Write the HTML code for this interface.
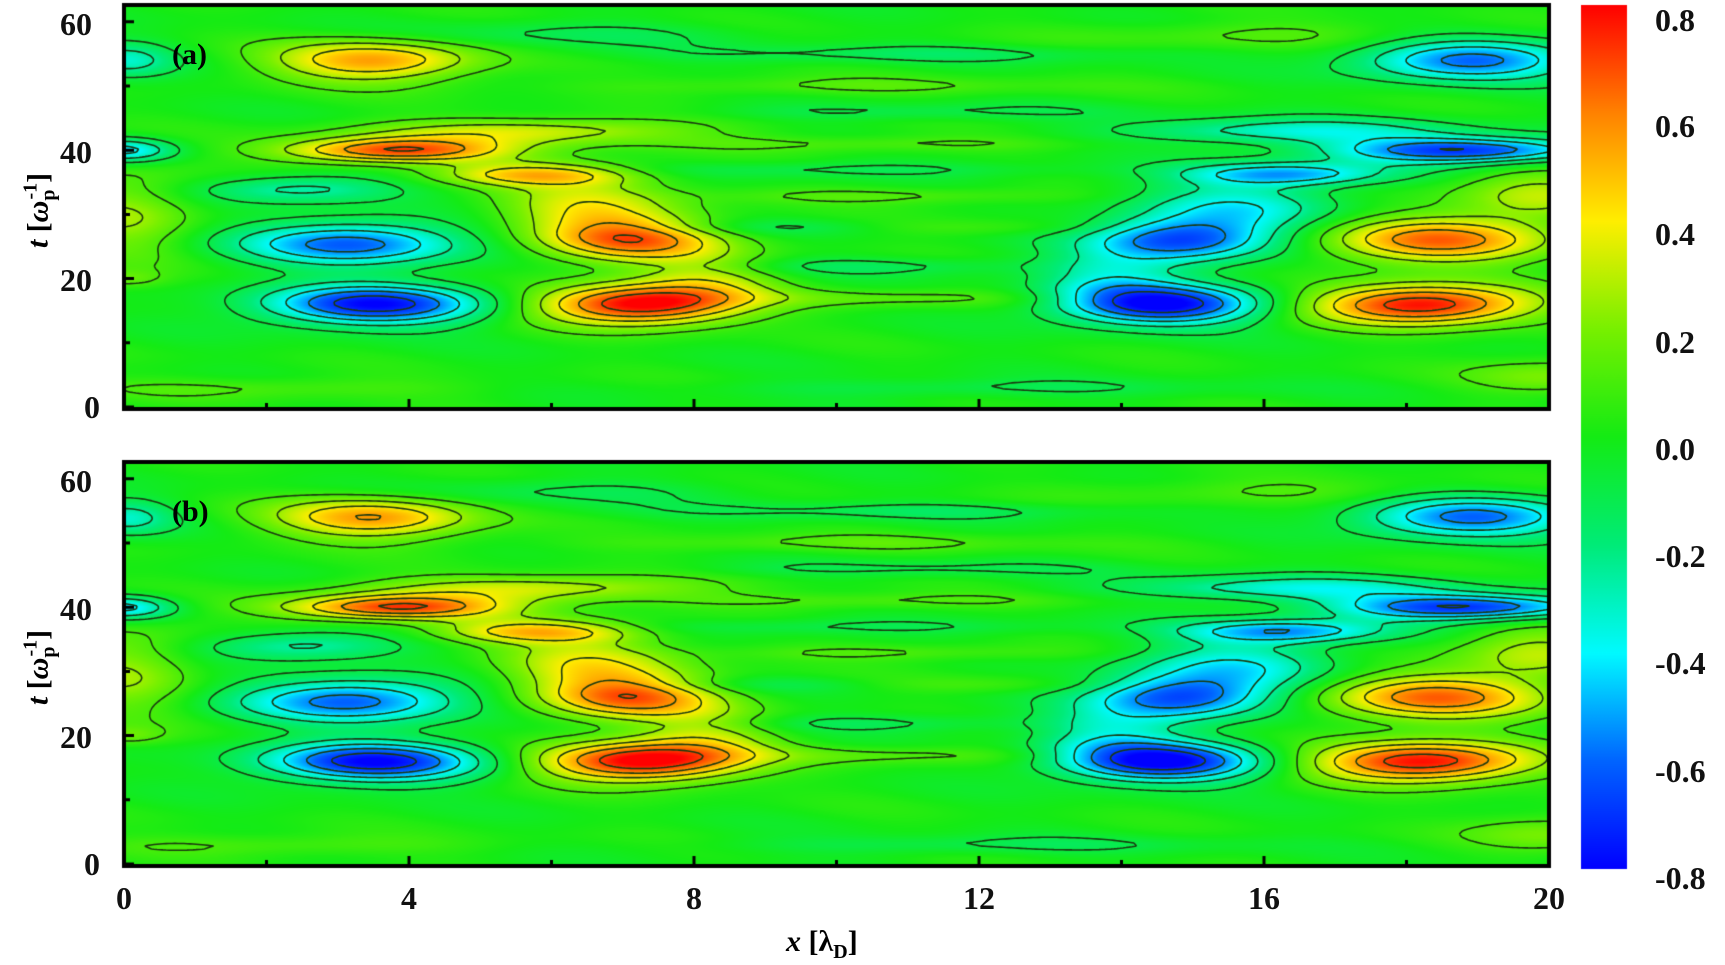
<!DOCTYPE html>
<html><head><meta charset="utf-8">
<style>
body{margin:0;background:#fff;width:1725px;height:965px;overflow:hidden;position:relative;font-family:"Liberation Serif",serif;font-weight:bold;}
canvas{position:absolute;left:0;top:0;}
.t{position:absolute;font-size:32px;line-height:1;color:#111;}
.yl{position:absolute;font-size:30px;transform:rotate(-90deg);transform-origin:center;white-space:nowrap;}
.lab{position:absolute;font-size:30px;}
</style></head><body>
<canvas id="c" width="1725" height="965"></canvas>
<div class="t" style="left:60px;top:8px">60</div>
<div class="t" style="left:60px;top:136px">40</div>
<div class="t" style="left:60px;top:264px">20</div>
<div class="t" style="left:84px;top:391px">0</div>
<div class="t" style="left:60px;top:465px">60</div>
<div class="t" style="left:60px;top:593px">40</div>
<div class="t" style="left:60px;top:721px">20</div>
<div class="t" style="left:84px;top:848px">0</div>
<div class="t" style="left:116px;top:882px">0</div>
<div class="t" style="left:401px;top:882px">4</div>
<div class="t" style="left:686px;top:882px">8</div>
<div class="t" style="left:963px;top:882px">12</div>
<div class="t" style="left:1248px;top:882px">16</div>
<div class="t" style="left:1533px;top:882px">20</div>
<div class="lab" style="left:786px;top:925px"><i>x</i> [λ<sub style="font-size:20px">D</sub>]</div>
<div class="yl" style="left:-30px;top:190px;width:140px;text-align:center"><i>t</i> [<i>ω</i><sub style="font-size:20px">p</sub><sup style="font-size:20px;margin-left:-10px">-1</sup>]</div>
<div class="yl" style="left:-30px;top:647px;width:140px;text-align:center"><i>t</i> [<i>ω</i><sub style="font-size:20px">p</sub><sup style="font-size:20px;margin-left:-10px">-1</sup>]</div>
<div class="lab" style="left:172px;top:38px">(a)</div>
<div class="lab" style="left:172px;top:495px">(b)</div>
<div class="t" style="left:1655px;top:4px">0.8</div>
<div class="t" style="left:1655px;top:110px">0.6</div>
<div class="t" style="left:1655px;top:218px">0.4</div>
<div class="t" style="left:1655px;top:326px">0.2</div>
<div class="t" style="left:1655px;top:433px">0.0</div>
<div class="t" style="left:1655px;top:540px">-0.2</div>
<div class="t" style="left:1655px;top:647px">-0.4</div>
<div class="t" style="left:1655px;top:755px">-0.6</div>
<div class="t" style="left:1655px;top:862px">-0.8</div>
<script>
const cv=document.getElementById('c'),ctx=cv.getContext('2d');
const X0=124,X1=1549,W=X1-X0,H=404;
const T0=-0.3,T1=62.6;
const stops=[[-0.8,0,0,255],[-0.6,0,100,255],[-0.4,0,250,255],[-0.2,0,235,120],[0,20,235,20],[0.2,120,240,0],[0.4,255,238,0],[0.6,255,130,0],[0.8,255,0,0]];
function cmap(v){if(v<=-0.8)return stops[0].slice(1);if(v>=0.8)return stops[8].slice(1);
for(let i=0;i<8;i++){const a=stops[i],b=stops[i+1];if(v<=b[0]){const f=(v-a[0])/(b[0]-a[0]);return [a[1]+f*(b[1]-a[1]),a[2]+f*(b[2]-a[2]),a[3]+f*(b[3]-a[3])];}}}
const blobs=[
[0.55,3.5,54,1.0,2.3],[0.7,3.8,40,1.1,1.4],[0.5,5.8,36.3,1.0,1.3],[0.35,5.7,43,1.6,1.4],[0.35,6.5,31,0.9,3],
[0.6,7.1,26,0.9,2.5],[0.82,7.2,16,1.0,2.2],[0.25,8.2,20,0.7,3],
[-0.62,3.2,25.5,1.1,2.4],[-0.78,3.5,16,1.1,2.2],[-0.3,2.5,34,1.0,1.5],
[-0.45,0,40,0.5,1.3],[0.25,0,30,0.7,5],[-0.3,0,54,0.5,2],[0.15,0,20,0.4,1],
[-0.6,18.9,54,1.1,2.2],[-0.72,18.8,40,1.3,1.4],[-0.5,16.3,36.3,1.0,1.3],[-0.35,16.4,43,1.6,1.4],[-0.35,15.6,31,1.0,3],
[-0.62,14.8,26,0.9,2.5],[-0.8,14.6,16,1.0,2.2],[-0.25,13.8,20,0.7,3],
[0.62,18.4,26,1.1,2.5],[0.82,18.2,16,1.1,2.2],[0.3,19.8,33,0.8,3],[0.2,20,5,0.8,2],
[0.13,10.5,41,2.2,0.9],[-0.13,10,37,2.5,0.9],[0.13,11,33,1.8,0.9],[-0.13,9.5,28,1.6,0.9],[0.13,11.5,28,1.4,0.9],
[-0.13,10.5,22,1.8,1.0],[0.13,10.8,17,1.8,1.0],[-0.13,11,55,2.5,1.0],[0.12,10,50,2.5,1.0],[-0.12,11,46,2.0,0.9],
[0.12,2,3,2,1.2],[-0.12,12,3,2.5,1],[0.12,16,58,1.8,1.5],[-0.12,6,58,1.8,1.5]];
function field(x,t,v2){let s=0;for(const b of blobs){const dx=(x-b[1])/b[3],dt=(t-b[2])/b[4];s+=b[0]*Math.exp(-0.5*(dx*dx+dt*dt));}
s+=0.025*Math.sin(x*1.7+t*0.3)+0.02*Math.sin(t*0.9+x*0.5+v2);return s;}
function panel(y0,v2){
 const img=ctx.createImageData(W,H);
 const step=3,gw=Math.ceil(W/step)+1,gh=Math.ceil(H/step)+1,g=new Float32Array(gw*gh);
 for(let j=0;j<gh;j++)for(let i=0;i<gw;i++){const x=i*step/W*20,t=T1-(j*step/H)*(T1-T0);g[j*gw+i]=field(x,t,v2);}
 function gv(px,py){const fx=px/step,fy=py/step,i=Math.min(Math.floor(fx),gw-2),j=Math.min(Math.floor(fy),gh-2),a=fx-i,b=fy-j;
  return g[j*gw+i]*(1-a)*(1-b)+g[j*gw+i+1]*a*(1-b)+g[(j+1)*gw+i]*(1-a)*b+g[(j+1)*gw+i+1]*a*b;}
 for(let py=0;py<H;py++)for(let px=0;px<W;px++){const c=cmap(gv(px,py)),k=(py*W+px)*4;img.data[k]=c[0];img.data[k+1]=c[1];img.data[k+2]=c[2];img.data[k+3]=255;}
 ctx.putImageData(img,X0,y0);
 ctx.strokeStyle='#1a3a10';ctx.lineWidth=1.6;ctx.beginPath();
 const levels=[-0.7,-0.55,-0.4,-0.25,-0.1,0.1,0.25,0.4,0.55,0.7];
 for(const L of levels){for(let j=0;j<gh-1;j++)for(let i=0;i<gw-1;i++){
  const a=g[j*gw+i],b=g[j*gw+i+1],c=g[(j+1)*gw+i+1],d=g[(j+1)*gw+i];
  const pts=[];const e=(p,q,x1,y1,x2,y2)=>{if((p<L)!==(q<L)){const f=(L-p)/(q-p);pts.push([x1+f*(x2-x1),y1+f*(y2-y1)]);}};
  e(a,b,i,j,i+1,j);e(b,c,i+1,j,i+1,j+1);e(d,c,i,j+1,i+1,j+1);e(a,d,i,j,i,j+1);
  for(let k=0;k+1<pts.length;k+=2){ctx.moveTo(X0+pts[k][0]*step,y0+pts[k][1]*step);ctx.lineTo(X0+pts[k+1][0]*step,y0+pts[k+1][1]*step);}
 }}
 ctx.stroke();
 ctx.strokeStyle='#000';ctx.lineWidth=4;ctx.strokeRect(X0,y0,W,H);
 ctx.lineWidth=3;ctx.beginPath();
 for(let x=0;x<=20;x+=2){const px=X0+x/20*W,len=(x%4==0)?10:6;ctx.moveTo(px,y0+H);ctx.lineTo(px,y0+H-len);}
 for(let t=0;t<=60;t+=10){const py=y0+(T1-t)/(T1-T0)*H,len=(t%20==0)?10:6;ctx.moveTo(X0,py);ctx.lineTo(X0+len,py);}
 ctx.stroke();
}
panel(5,0);panel(462,0.8);
const gr=ctx.createLinearGradient(0,869,0,5);
for(const s of stops)gr.addColorStop((s[0]+0.8)/1.6,`rgb(${s[1]},${s[2]},${s[3]})`);
ctx.fillStyle=gr;ctx.fillRect(1581,5,46,864);
</script>
</body></html>
